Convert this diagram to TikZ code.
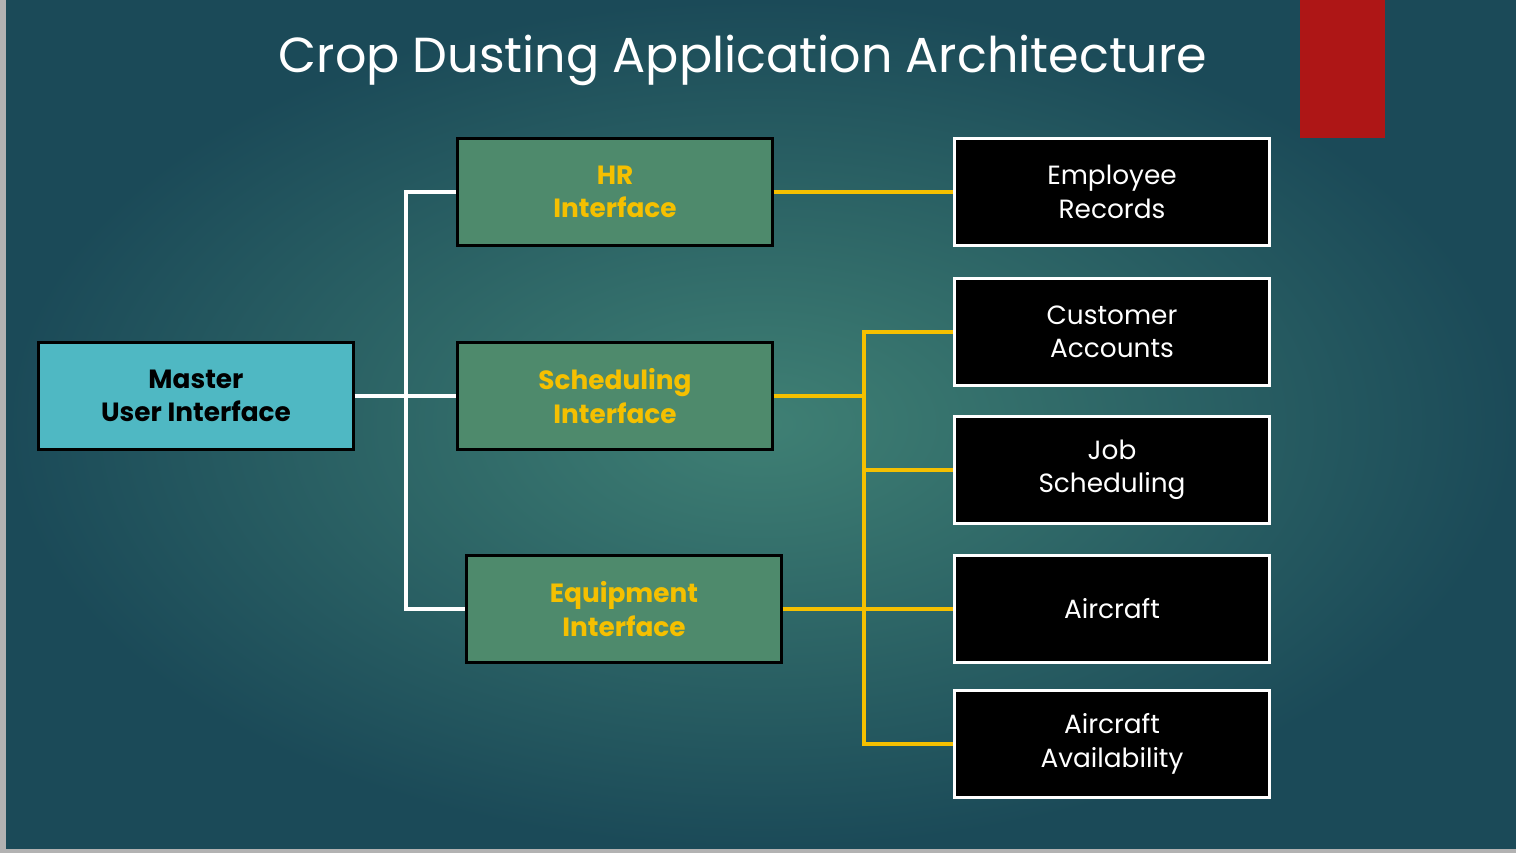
\documentclass[tikz,border=0pt]{standalone}
\usepackage{fontspec}
\setmainfont{Poppins}
\usetikzlibrary{positioning}
\definecolor{bgdark}{HTML}{1B4A58}
\definecolor{bglight}{HTML}{3F8074}
\definecolor{masterfill}{HTML}{4FB8C3}
\definecolor{midfill}{HTML}{4E8A6C}
\definecolor{gold}{HTML}{F5C000}
\definecolor{slidered}{HTML}{AE1616}
\tikzset{
  box/.style={draw, line width=1.2pt, minimum width=6.3cm, minimum height=2.14cm, align=center, font=\fontsize{15}{19}\selectfont},
  master/.style={box, fill=masterfill, font=\fontsize{15}{19}\selectfont\bfseries},
  module/.style={box, fill=midfill, text=gold, font=\fontsize{15}{19}\selectfont\bfseries},
  store/.style={box, fill=black, draw=white, text=white},
  wline/.style={white, line width=2.4pt},
  yline/.style={gold, line width=2.4pt}
}
\begin{document}
\begin{tikzpicture}[x=0.02cm, y=-0.02cm]
	\useasboundingbox (0,0) rectangle (1516,853);
	% background
	\fill[gray!60] (0,0) rectangle (1516,853);
	\shade[inner color=bglight, outer color=bgdark] (6,0) rectangle (1516,848);
	\fill[slidered] (1300,0) rectangle (1385,138);
	\node[text=white, font=\fontsize{28}{32}\selectfont] (title) at (743,60) {Crop Dusting Application Architecture};
	
	% left side
	\node[master] (ui) at (196,396) {Master\\User Interface};
	\node[module] (hr) at (615,192) {HR\\Interface};
	\node[module] (sched) at (615,396) {Scheduling\\Interface};
	\node[module] (equip) at (624,609) {Equipment\\Interface};
	
	% right side
	\node[store] (emp) at (1112,192) {Employee\\Records};
	\node[store] (cust) at (1112,332) {Customer\\Accounts};
	\node[store] (job) at (1112,470) {Job\\Scheduling};
	\node[store] (air) at (1112,609) {Aircraft};
	\node[store] (avail) at (1112,744) {Aircraft\\Availability};
	
	\coordinate (wjoin) at (406,396);
	\coordinate (yjoin) at (864,396);
	\coordinate (ejoin) at (864,609);
	
	\draw[wline] (ui.east) -- (wjoin);
	\draw[wline] (wjoin) |- (hr.west);
	\draw[wline] (wjoin) -- (sched.west);
	\draw[wline] (wjoin) |- (equip.west);
	
	\draw[yline] (hr.east) -- (emp.west);
	\draw[yline] (sched.east) -- (yjoin);
	\draw[yline] (equip.east) -- (ejoin);
	\draw[yline] (yjoin) |- (cust.west);
	\draw[yline] (yjoin) |- (job.west);
	\draw[yline] (ejoin) -- (air.west);
	\draw[yline] (yjoin) |- (avail.west);
\end{tikzpicture}
\end{document}
